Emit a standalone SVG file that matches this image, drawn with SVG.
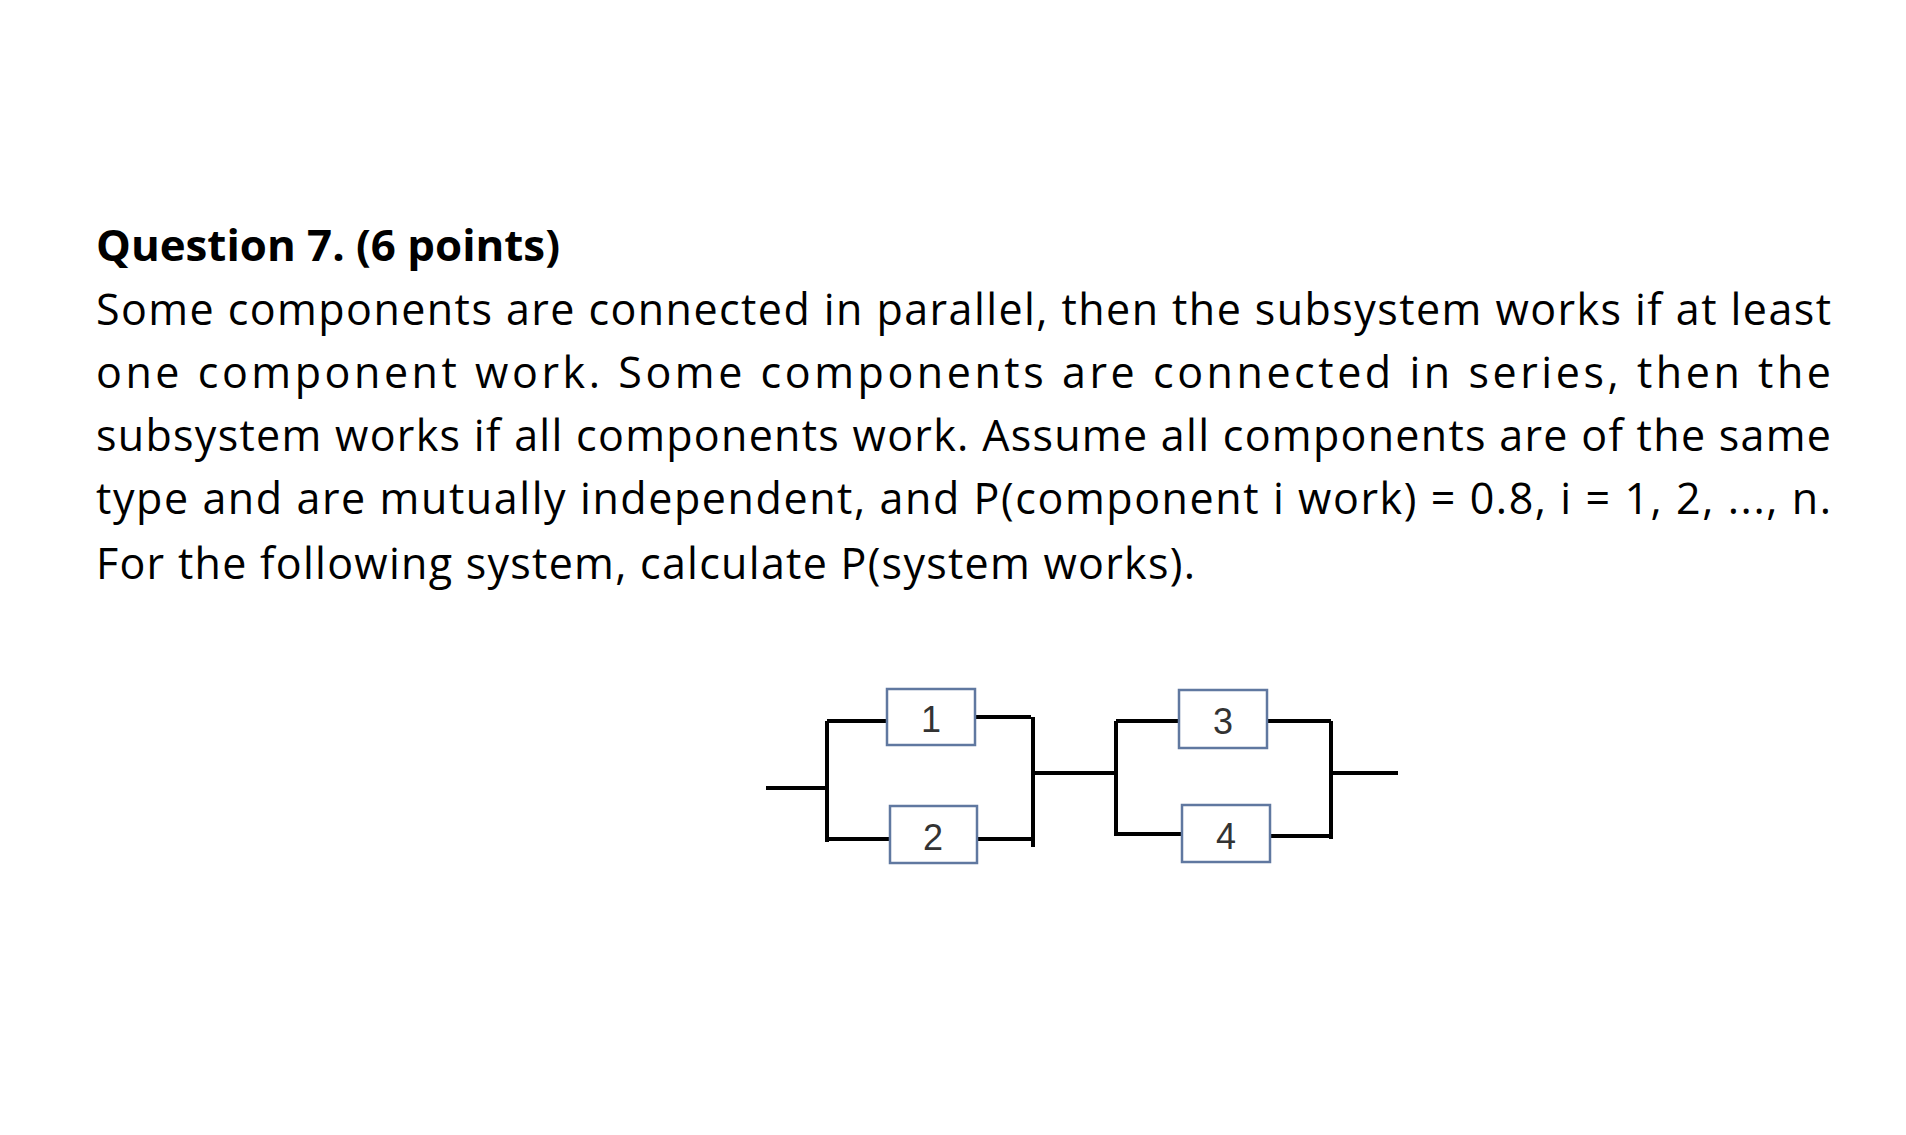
<svg xmlns="http://www.w3.org/2000/svg" width="1906" height="1135" viewBox="0 0 1906 1135">
<style>
.t{font-family:"Open Sans","Liberation Sans",sans-serif;font-size:43px;fill:#000}
.h{font-weight:bold}
.w{stroke:#000;stroke-width:4;fill:none}
.b{fill:#fff;stroke:#6078a0;stroke-width:2.5}
.n{font-family:"Liberation Sans",sans-serif;font-size:36px;fill:#333;text-anchor:middle}
</style>
<rect width="1906" height="1135" fill="#fff"/>
<g id="text">
<text class="t h" x="96" y="261" textLength="464" lengthAdjust="spacingAndGlyphs">Question 7. (6 points)</text>
<text class="t" x="96" y="325" textLength="1735" lengthAdjust="spacing">Some components are connected in parallel, then the subsystem works if at least</text>
<text class="t" x="96" y="388" textLength="1735" lengthAdjust="spacing">one component work. Some components are connected in series, then the</text>
<text class="t" x="96" y="451" textLength="1735" lengthAdjust="spacing">subsystem works if all components work. Assume all components are of the same</text>
<text class="t" x="96" y="514" textLength="1735" lengthAdjust="spacing">type and are mutually independent, and P(component i work) = 0.8, i = 1, 2, ..., n.</text>
<text class="t" x="96" y="579" textLength="1099" lengthAdjust="spacing">For the following system, calculate P(system works).</text>
</g>
<g id="connectors">
<path class="w" d="M766 788H827M827 721V842M827 721H887M829 839H890M975 717H1031M1033 717V847M977 839H1033M1033 773H1116M1116 721V836M1116 721H1179M1118 834H1182M1267 721H1331M1270 836H1331M1331 721V839M1331 773H1398"/>
</g>
<g id="n1"><rect class="b" x="887" y="689" width="88" height="56"/><text class="n" x="931" y="732">1</text></g>
<g id="n2"><rect class="b" x="890" y="806" width="87" height="57"/><text class="n" x="933" y="850">2</text></g>
<g id="n3"><rect class="b" x="1179" y="690" width="88" height="58"/><text class="n" x="1223" y="734">3</text></g>
<g id="n4"><rect class="b" x="1182" y="805" width="88" height="57"/><text class="n" x="1226" y="849">4</text></g>
</svg>
